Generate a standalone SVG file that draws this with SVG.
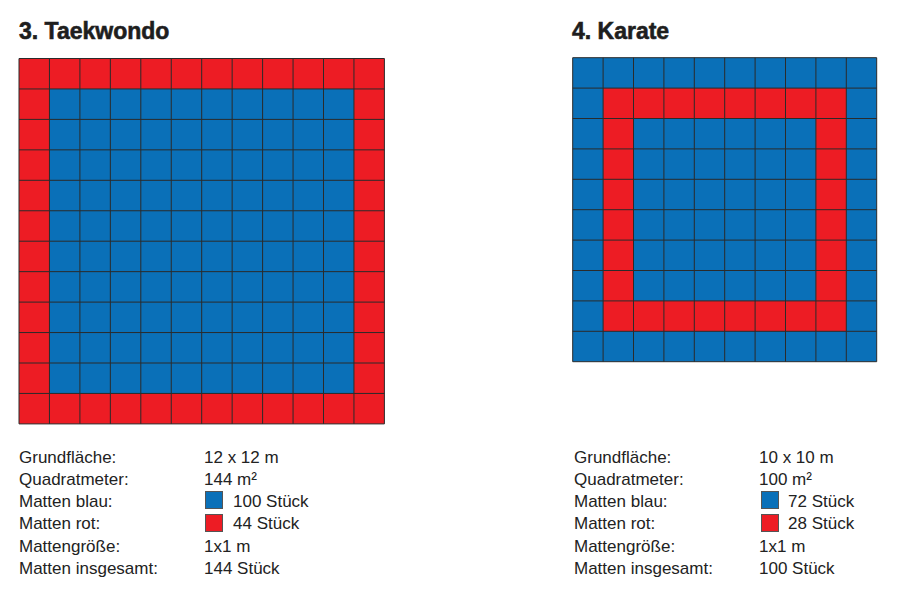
<svg xmlns="http://www.w3.org/2000/svg" width="908" height="602" viewBox="0 0 908 602">
<style>
.title{font-family:"Liberation Sans",Arial,sans-serif;font-weight:bold;font-size:23px;fill:#1e1e1e;stroke:#1e1e1e;stroke-width:0.6}
.lbl{font-family:"Liberation Sans",Arial,sans-serif;font-size:17px;fill:#222}
.red{fill:#ED1C24}
.blue{fill:#0A70B8}
.grid{fill:none;stroke:#2b2b2b;stroke-width:1}
.sw{stroke:#555;stroke-width:1}
</style>
<rect width="908" height="602" fill="#fff"/>
<g id="taekwondo">
<text class="title" x="19" y="39">3. Taekwondo</text>
<rect class="red" x="19" y="58.5" width="365.4" height="365.4"/>
<rect class="blue" x="49.45" y="88.95" width="304.5" height="304.5"/>
<path class="grid" d="M19 58.5V423.9M49.45 58.5V423.9M79.9 58.5V423.9M110.35 58.5V423.9M140.8 58.5V423.9M171.25 58.5V423.9M201.7 58.5V423.9M232.15 58.5V423.9M262.6 58.5V423.9M293.05 58.5V423.9M323.5 58.5V423.9M353.95 58.5V423.9M384.4 58.5V423.9M19 58.5H384.4M19 88.95H384.4M19 119.4H384.4M19 149.85H384.4M19 180.3H384.4M19 210.75H384.4M19 241.2H384.4M19 271.65H384.4M19 302.1H384.4M19 332.55H384.4M19 363H384.4M19 393.45H384.4M19 423.9H384.4"/>
</g>
<g id="taekwondo-legend">
<text class="lbl" x="19" y="463">Grundfläche:</text>
<text class="lbl" x="19" y="485">Quadratmeter:</text>
<text class="lbl" x="19" y="507">Matten blau:</text>
<text class="lbl" x="19" y="529">Matten rot:</text>
<text class="lbl" x="19" y="552">Mattengröße:</text>
<text class="lbl" x="19" y="574">Matten insgesamt:</text>
<text class="lbl" x="204" y="463">12 x 12 m</text>
<text class="lbl" x="204" y="485">144 m²</text>
<rect class="blue sw" x="205.5" y="491.5" width="17" height="17"/>
<text class="lbl" x="233" y="507">100 Stück</text>
<rect class="red sw" x="205.5" y="514.5" width="17" height="17"/>
<text class="lbl" x="233" y="529">44 Stück</text>
<text class="lbl" x="204" y="552">1x1 m</text>
<text class="lbl" x="204" y="574">144 Stück</text>
</g>
<g id="karate">
<text class="title" x="572" y="39">4. Karate</text>
<rect class="blue" x="572.7" y="57.7" width="304" height="304"/>
<rect class="red" x="603.1" y="88.1" width="243.2" height="243.2"/>
<rect class="blue" x="633.5" y="118.5" width="182.4" height="182.4"/>
<path class="grid" d="M572.7 57.7V361.7M603.1 57.7V361.7M633.5 57.7V361.7M663.9 57.7V361.7M694.3 57.7V361.7M724.7 57.7V361.7M755.1 57.7V361.7M785.5 57.7V361.7M815.9 57.7V361.7M846.3 57.7V361.7M876.7 57.7V361.7M572.7 57.7H876.7M572.7 88.1H876.7M572.7 118.5H876.7M572.7 148.9H876.7M572.7 179.3H876.7M572.7 209.7H876.7M572.7 240.1H876.7M572.7 270.5H876.7M572.7 300.9H876.7M572.7 331.3H876.7M572.7 361.7H876.7"/>
</g>
<g id="karate-legend">
<text class="lbl" x="574" y="463">Grundfläche:</text>
<text class="lbl" x="574" y="485">Quadratmeter:</text>
<text class="lbl" x="574" y="507">Matten blau:</text>
<text class="lbl" x="574" y="529">Matten rot:</text>
<text class="lbl" x="574" y="552">Mattengröße:</text>
<text class="lbl" x="574" y="574">Matten insgesamt:</text>
<text class="lbl" x="759" y="463">10 x 10 m</text>
<text class="lbl" x="759" y="485">100 m²</text>
<rect class="blue sw" x="761.5" y="491.5" width="17" height="17"/>
<text class="lbl" x="788" y="507">72 Stück</text>
<rect class="red sw" x="761.5" y="514.5" width="17" height="17"/>
<text class="lbl" x="788" y="529">28 Stück</text>
<text class="lbl" x="759" y="552">1x1 m</text>
<text class="lbl" x="759" y="574">100 Stück</text>
</g>
</svg>
